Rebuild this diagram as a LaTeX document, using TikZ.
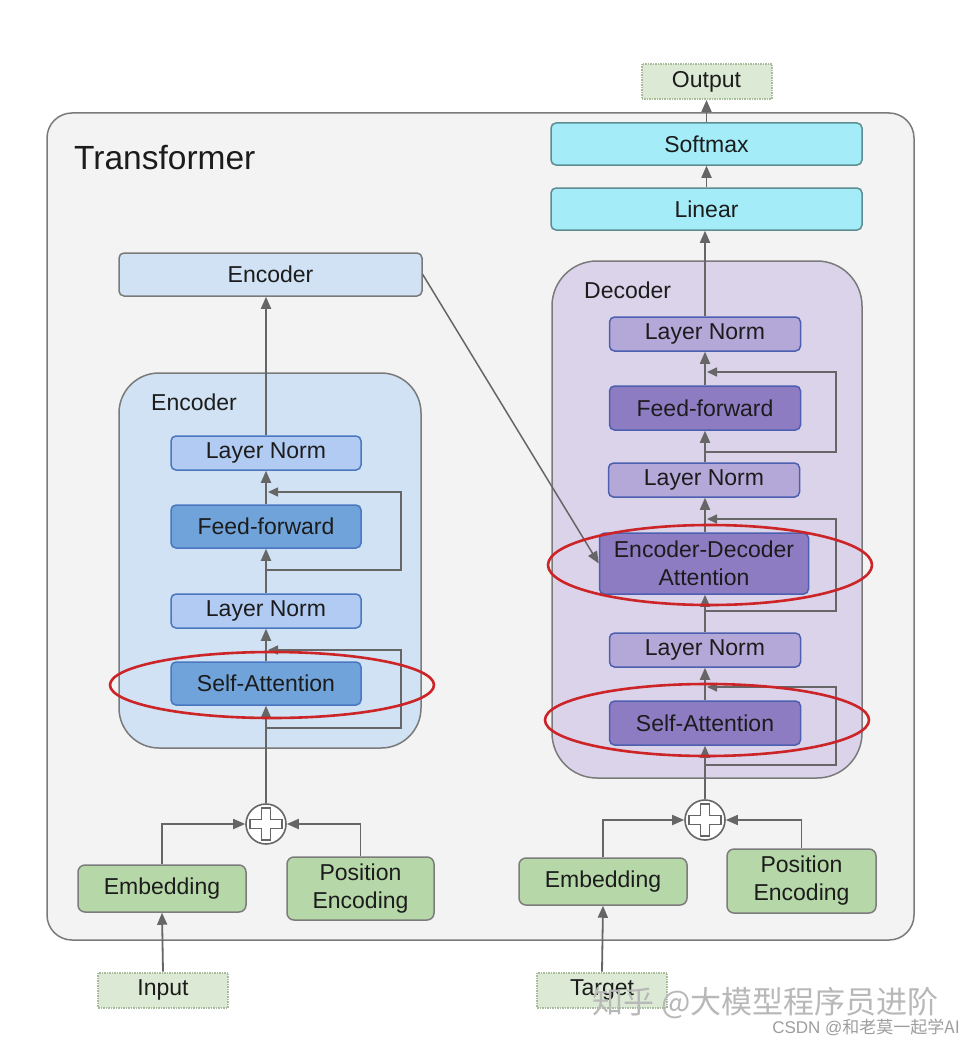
\documentclass[tikz,border=0pt]{standalone}
\usepackage{fontspec}
\setmainfont{Liberation Sans}
\newfontfamily\cjkfont{Noto Sans CJK SC}
\usetikzlibrary{arrows.meta,calc}
\definecolor{txt}{HTML}{1C1C1C}
\definecolor{linec}{HTML}{666666}
\definecolor{outerfill}{HTML}{F3F3F3}
\definecolor{outerdraw}{HTML}{7A7A7A}
\definecolor{iofill}{HTML}{DCEAD5}
\definecolor{iodraw}{HTML}{A6BC9C}
\definecolor{cyanfill}{HTML}{A4EDF8}
\definecolor{cyandraw}{HTML}{5E8C93}
\definecolor{encblk}{HTML}{D0E2F3}
\definecolor{enclight}{HTML}{B2CBF3}
\definecolor{encdark}{HTML}{6FA3DA}
\definecolor{encdraw}{HTML}{4A77C0}
\definecolor{decblk}{HTML}{DAD3EA}
\definecolor{declight}{HTML}{B4A8D8}
\definecolor{decdark}{HTML}{8E7CC3}
\definecolor{decdraw}{HTML}{4D5FB0}
\definecolor{greenfill}{HTML}{B6D7A8}
\definecolor{greendraw}{HTML}{7C7C7C}
\definecolor{ringred}{HTML}{CC2427}
\newcommand\pluscross[1]{%
  \draw[line width=1.6pt, draw=linec, fill=white]
    ($(#1)+(-4.5,-16)$) -- ++(9,0) -- ++(0,11.5) -- ++(11.5,0) -- ++(0,9)
    -- ++(-11.5,0) -- ++(0,11.5) -- ++(-9,0) -- ++(0,-11.5) -- ++(-11.5,0)
    -- ++(0,-9) -- ++(11.5,0) -- cycle;}
\begin{document}
\begin{tikzpicture}[x=1pt,y=-1pt,
  lbl/.style={text=txt, font=\fontsize{23}{28}\selectfont, align=center, inner sep=0pt},
  box/.style={lbl, draw, rounded corners=5pt, line width=1.5pt},
  iobox/.style={box, rounded corners=0pt, fill=iofill, draw=iodraw, densely dotted, line width=2pt, minimum width=130pt, minimum height=35pt},
  cyanbox/.style={box, fill=cyanfill, draw=cyandraw, minimum width=311pt, minimum height=42pt},
  enclt/.style={box, fill=enclight, draw=encdraw, minimum width=190pt, minimum height=34pt},
  encdk/.style={box, fill=encdark, draw=encdraw, minimum width=190pt, minimum height=43pt},
  declt/.style={box, fill=declight, draw=decdraw, minimum width=191pt, minimum height=34pt},
  decdk/.style={box, fill=decdark, draw=decdraw, minimum width=191pt, minimum height=44pt},
  greenbox/.style={box, fill=greenfill, draw=greendraw, rounded corners=7pt},
  blk/.style={draw=outerdraw, line width=1.5pt, inner sep=0pt},
  arr/.style={draw=linec, line width=1.8pt, -{Triangle[length=12pt,width=10pt]}},
  resarr/.style={draw=linec, line width=1.6pt, -{Triangle[length=10pt,width=9pt]}},
  plusnode/.style={circle, draw=linec, line width=1.6pt, fill=white, minimum size=40pt, inner sep=0pt},
  ring/.style={draw=ringred, line width=2.6pt}
]
\useasboundingbox (0,0) rectangle (964,1046);
\fill[white] (0,0) rectangle (964,1046);

% outer frame
\node[blk, fill=outerfill, rounded corners=25pt, minimum width=867pt, minimum height=827pt] (tf) at (480.5,526.5) {};
\node[lbl, anchor=west, font=\fontsize{33.5}{38}\selectfont] (tftitle) at (74,158) {Transformer};

% blocks
\node[blk, fill=encblk, rounded corners=40pt, minimum width=302pt, minimum height=375pt] (encblock) at (270,560.5) {};
\node[lbl, anchor=west] (enclabel) at (151,402) {Encoder};
\node[blk, fill=decblk, rounded corners=45pt, minimum width=310pt, minimum height=517pt] (decblock) at (707,519.5) {};
\node[lbl, anchor=west] (declabel) at (584,290) {Decoder};

% top stack
\node[iobox] (output) at (706.5,81.5) {Output};
\node[cyanbox] (softmax) at (706.5,144) {Softmax};
\node[cyanbox] (linear) at (706.5,209) {Linear};
\node[box, fill=encblk, draw=outerdraw, minimum width=303pt, minimum height=43pt] (enctop) at (270.5,274.5) {Encoder};

% encoder layers
\node[enclt] (encln2) at (266,453) {Layer Norm};
\node[encdk] (encff) at (266,526.5) {Feed-forward};
\node[enclt] (encln1) at (266,611) {Layer Norm};
\node[encdk] (encsa) at (266,683.5) {Self-Attention};

% decoder layers
\node[declt] (decln3) at (705,334) {Layer Norm};
\node[decdk] (decff) at (705,408) {Feed-forward};
\node[declt] (decln2) at (704,480) {Layer Norm};
\node[decdk, minimum width=209pt, minimum height=61pt] (deceda) at (704,563.5) {Encoder-Decoder\\Attention};
\node[declt] (decln1) at (705,650) {Layer Norm};
\node[decdk] (decsa) at (705,723) {Self-Attention};

% inputs
\node[plusnode] (encplus) at (266,824) {};
\node[greenbox, minimum width=168pt, minimum height=47pt] (encemb) at (162,888.5) {Embedding};
\node[greenbox, minimum width=147pt, minimum height=63pt] (encpos) at (360.5,888.5) {Position\\Encoding};
\node[iobox] (input) at (163,990) {Input};

\node[plusnode] (decplus) at (705,820) {};
\node[greenbox, minimum width=168pt, minimum height=47pt] (decemb) at (603,881.5) {Embedding};
\node[greenbox, minimum width=149pt, minimum height=64pt] (decpos) at (801.5,881) {Position\\Encoding};
\node[iobox] (target) at (602,990) {Target};

\pluscross{encplus}
\pluscross{decplus}

% encoder connectors
\draw[arr] (input.north) -- (encemb.south);
\draw[arr] (encemb.north) |- (encplus.west);
\draw[arr] (encpos.north) |- (encplus.east);
\draw[arr] (encplus.north) -- (encsa.south);
\draw[arr] (encsa.north) -- (encln1.south);
\draw[arr] (encln1.north) -- (encff.south);
\draw[arr] (encff.north) -- (encln2.south);
\draw[arr] (encln2.north) -- (encln2.north |- enctop.south);
\coordinate (eres1) at (266,728);
\coordinate (eres1end) at (268,650);
\coordinate (eres2) at (266,570);
\coordinate (eres2end) at (268,492);
\draw[resarr] (eres1) -- (401,728) -- (401,650) -- (eres1end);
\draw[resarr] (eres2) -- (401,570) -- (401,492) -- (eres2end);

% decoder connectors
\draw[arr] (target.north) -- (decemb.south);
\draw[arr] (decemb.north) |- (decplus.west);
\draw[arr] (decpos.north) |- (decplus.east);
\draw[arr] (decplus.north) -- (decsa.south);
\draw[arr] (decsa.north) -- (decln1.south);
\draw[arr] (decln1.north) -- (decln1.north |- deceda.south);
\draw[arr] (decln1.north |- deceda.north) -- (decln1.north |- decln2.south);
\draw[arr] (decln1.north |- decln2.north) -- (decln1.north |- decff.south);
\draw[arr] (decff.north) -- (decln3.south);
\draw[arr] (decln3.north) -- (decln3.north |- linear.south);
\draw[arr] (linear.north) -- (softmax.south);
\draw[arr] (softmax.north) -- (output.south);
\coordinate (dres1) at (705,765);
\coordinate (dres1end) at (707,687);
\coordinate (dres2) at (705,611);
\coordinate (dres2end) at (707,519);
\coordinate (dres3) at (705,452);
\coordinate (dres3end) at (707,372);
\draw[resarr] (dres1) -- (836,765) -- (836,687) -- (dres1end);
\draw[resarr] (dres2) -- (836,611) -- (836,519) -- (dres2end);
\draw[resarr] (dres3) -- (836,452) -- (836,372) -- (dres3end);

% encoder output to encoder-decoder attention
\draw[arr, line width=1.5pt] (enctop.east) -- (deceda.west);

% red highlight rings
\draw[ring] (272,685) ellipse [x radius=162pt, y radius=33pt];
\draw[ring] (710,565) ellipse [x radius=162pt, y radius=40pt];
\draw[ring] (707,720) ellipse [x radius=162pt, y radius=36pt];

% watermarks
\node[inner sep=0pt, anchor=west, text=black!28, font=\cjkfont\fontsize{31}{34}\selectfont] (wm1) at (592,1003) {知乎 @大模型程序员进阶};
\node[inner sep=0pt, anchor=east, text=black!38, font=\fontsize{17}{20}\selectfont] (wm2) at (960,1027) {CSDN @{\cjkfont 和老莫一起学AI}};
\end{tikzpicture}
\end{document}
